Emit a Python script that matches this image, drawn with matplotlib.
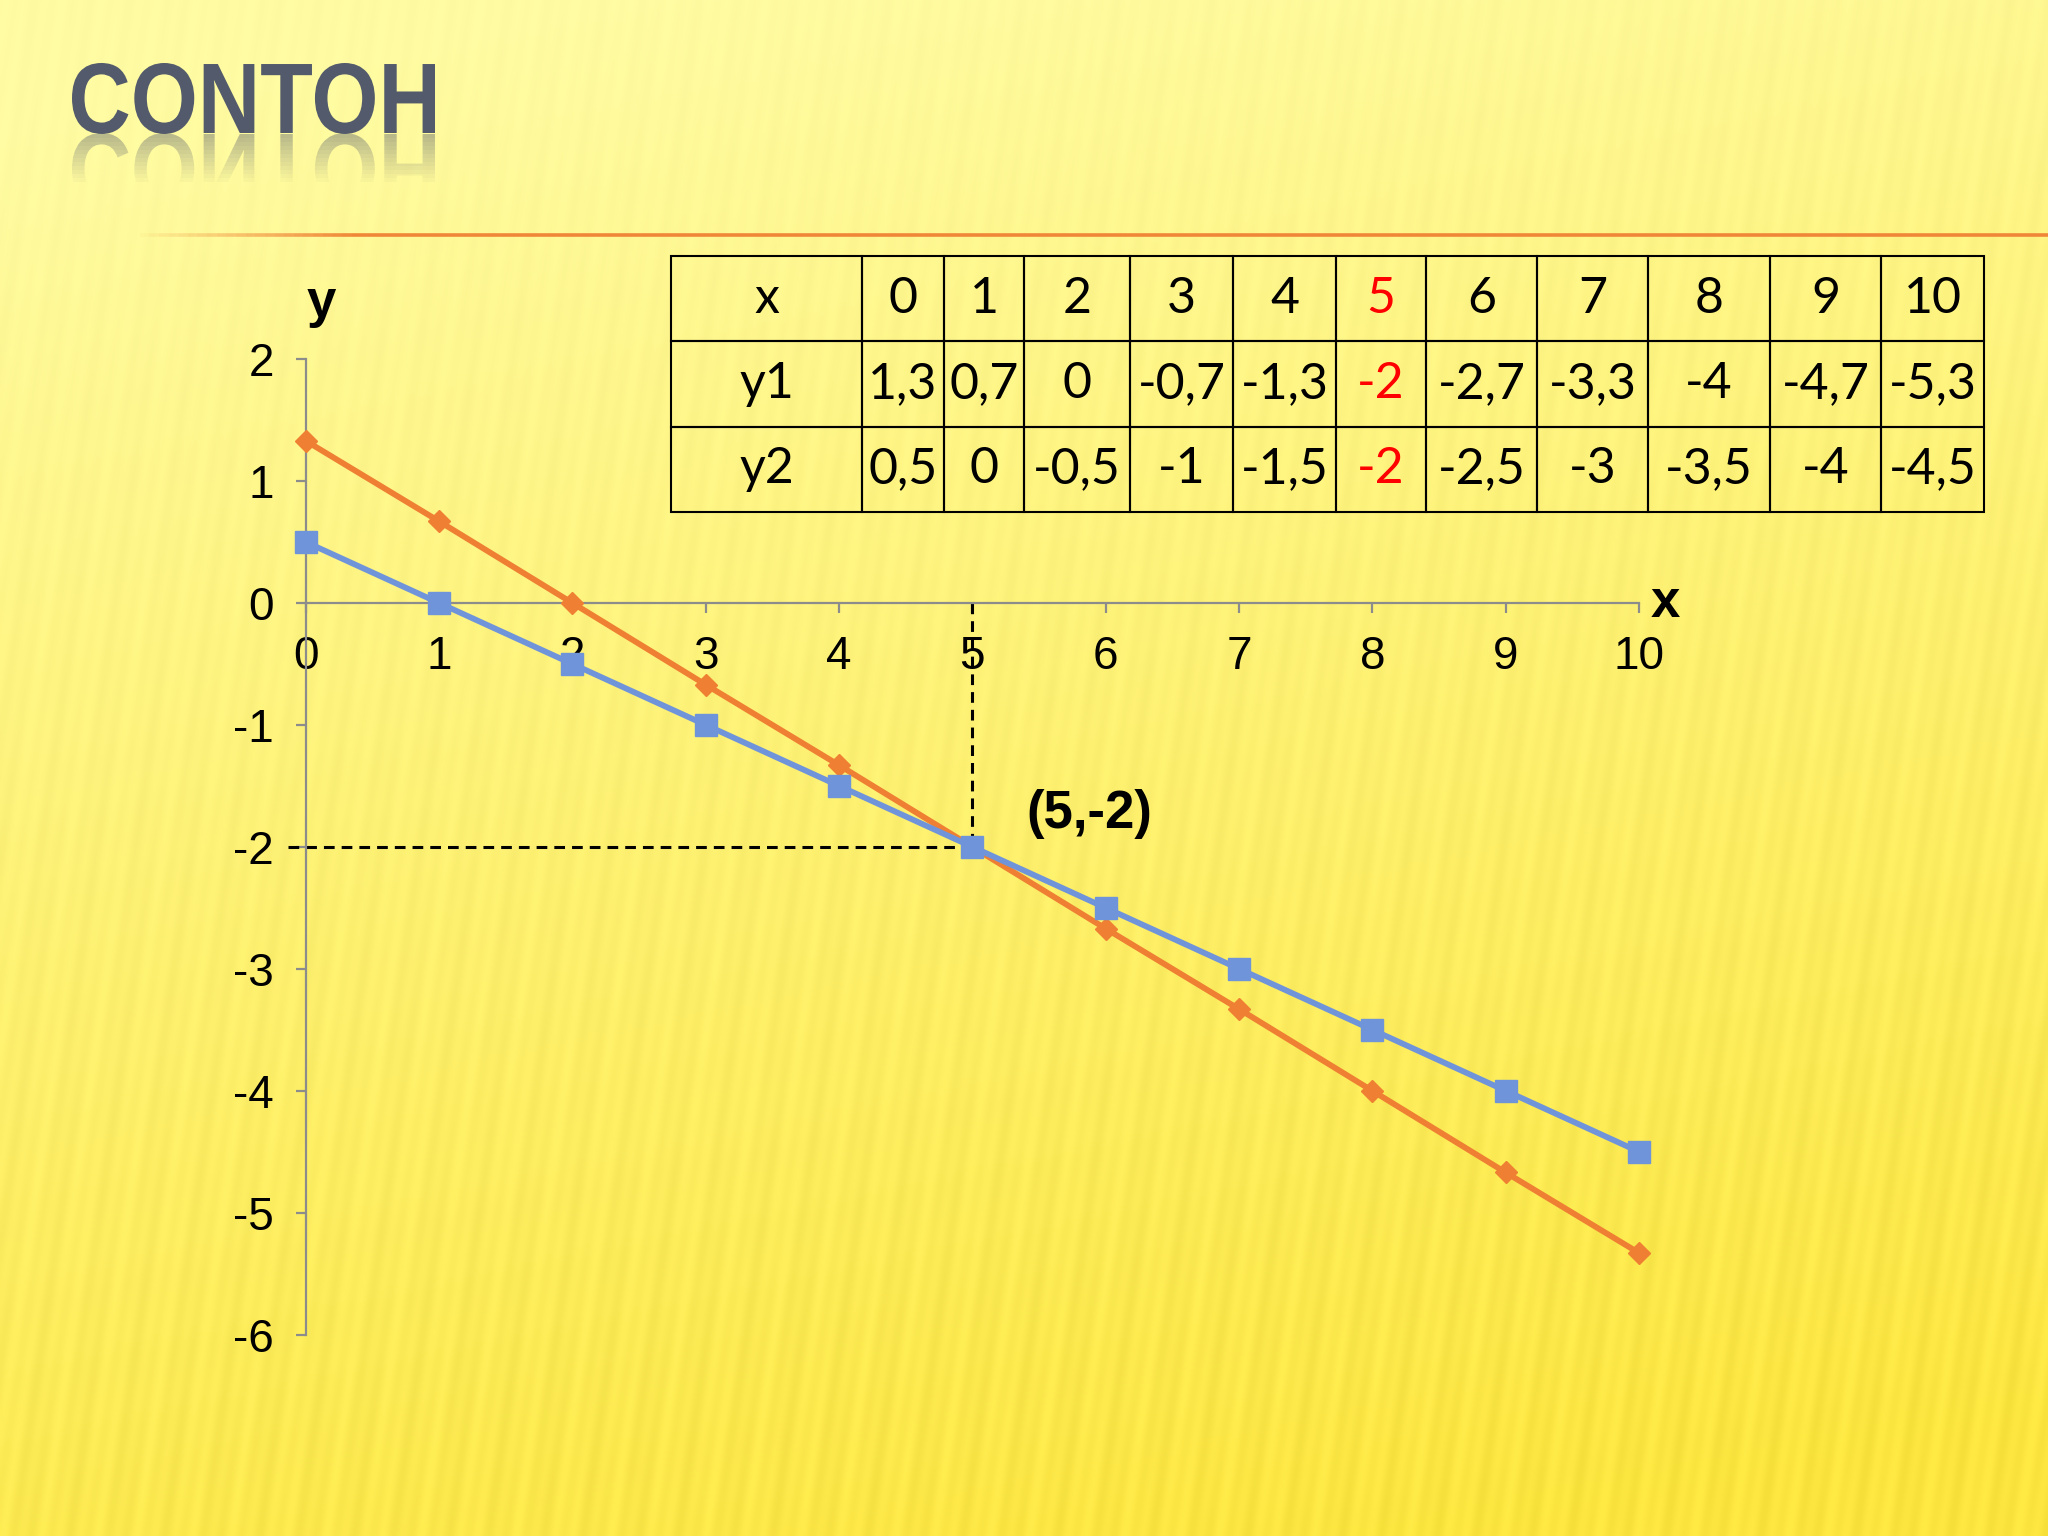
import matplotlib.pyplot as plt
import numpy as np
from matplotlib.textpath import TextPath
from matplotlib.font_manager import FontProperties
from matplotlib.patches import PathPatch, Rectangle
from matplotlib.transforms import Affine2D
from matplotlib.collections import LineCollection

plt.rcParams['font.family'] = ['Liberation Sans', 'DejaVu Sans']
plt.rcParams['axes.unicode_minus'] = False

# data
x_vals = [0, 1, 2, 3, 4, 5, 6, 7, 8, 9, 10]
y1_vals = [1.33, 0.67, 0, -0.67, -1.33, -2, -2.67, -3.33, -4, -4.67, -5.33]
y2_vals = [0.5, 0, -0.5, -1, -1.5, -2, -2.5, -3, -3.5, -4, -4.5]
row_labels = ['x', 'y1', 'y2']
y_ticks = [2, 1, 0, -1, -2, -3, -4, -5, -6]
solution = (5, -2)
solution_label = '(5,-2)'
title_text = 'CONTOH'

W, H = 2048, 1536
fig = plt.figure(figsize=(W / 100, H / 100), dpi=100)

# background slide (pixel coordinates, y downwards)
bg = fig.add_axes([0, 0, 1, 1], zorder=0)
yy, xx = np.mgrid[0:H:2, 0:W:2]
yn = yy / H
xn = xx / W
t = np.clip(0.9 * yn + 0.25 * xn - 0.08, 0, 1)
c0 = np.array([255, 251, 162]) / 255
c1 = np.array([251, 229, 62]) / 255
img = c0 + (c1 - c0) * t[..., None]
stripes = 0.014 * np.sin(2 * np.pi * (xx + 0.15 * yy) / 19) + 0.01 * np.sin(2 * np.pi * (xx + 0.1 * yy) / 47)
img = np.clip(img + (stripes * (0.3 + 0.7 * t))[..., None], 0, 1)
bg.imshow(img, extent=[0, W, H, 0], aspect='auto', interpolation='bilinear')
bg.set_xlim(0, W)
bg.set_ylim(H, 0)
bg.axis('off')

# title with a faded reflection
title_color = '#535A6C'
fp = FontProperties(family='Liberation Sans', weight='bold')
tp = TextPath((0, 0), title_text, size=100, prop=fp)
ext = tp.get_extents()
sx = 363 / ext.width
sy = 71 / ext.height
base = Affine2D().translate(-ext.x0, 0)
upright = (base + Affine2D().scale(sx, -sy).translate(72, 133)).transform_path(tp)
bg.add_patch(PathPatch(upright, facecolor=title_color, edgecolor='none', zorder=3))
mirror = (base + Affine2D().scale(sx, sy).translate(72, 134)).transform_path(tp)
n_bands = 12
for i in range(n_bands):
    y0 = 134 + i * 4
    p = PathPatch(mirror, facecolor=title_color, edgecolor='none',
                  alpha=0.4 * (1 - i / n_bands), zorder=3)
    bg.add_patch(p)
    p.set_clip_path(Rectangle((60, y0), 400, 4, transform=bg.transData))

# orange rule under the title, fading in from the left
xs = np.linspace(130, W, 200)
segs = [[(xs[i], 235), (xs[i + 1], 235)] for i in range(len(xs) - 1)]
alphas = np.clip((xs[:-1] - 130) / 220, 0, 1)
cols = [(0.94, 0.53, 0.22, a) for a in alphas]
bg.add_collection(LineCollection(segs, colors=cols, linewidths=2.6, zorder=3))


# value table
def fmt(v):
    s = f'{v:.1f}'.replace('.', ',')
    return s[:-2] if s.endswith(',0') else s


cell_text = [[row_labels[0]] + [str(v) for v in x_vals],
             [row_labels[1]] + [fmt(v) for v in y1_vals],
             [row_labels[2]] + [fmt(v) for v in y2_vals]]
col_w = [191, 82, 80, 106, 103, 103, 90, 111, 111, 122, 111, 103]
tab = bg.table(cellText=cell_text, colWidths=[w / sum(col_w) for w in col_w],
               cellLoc='center', bbox=[671 / W, 1 - 512 / H, 1313 / W, 256 / H])
tab.auto_set_font_size(False)
red_col = x_vals.index(solution[0]) + 1
for (r, c), cell in tab.get_celld().items():
    cell.set_facecolor('none')
    cell.set_edgecolor('black')
    cell.set_linewidth(1.5)
    txt = cell.get_text()
    txt.set_fontsize(36)
    txt.set_fontfamily(['Lato', 'DejaVu Sans'])
    txt.set_color('#FF0000' if c == red_col else 'black')

# the chart
ax = fig.add_axes([305.6 / W, 1 - 1334.7 / H, (1639 - 305.6) / W, (1334.7 - 359) / H], zorder=2)
ax.patch.set_alpha(0)

ax.plot([solution[0], solution[0]], [0, solution[1]], color='black', lw=2.2,
        linestyle=(0, (3.5, 2.3)), zorder=2)
ax.plot([-0.13, solution[0]], [solution[1], solution[1]], color='black', lw=2.2,
        linestyle=(0, (3.5, 2.3)), zorder=2, clip_on=False)

ax.plot(x_vals, y1_vals, color='#EE7F33', lw=4.2, marker='D', ms=11, zorder=3, clip_on=False)
ax.plot(x_vals, y2_vals, color='#7094DA', lw=4.2, marker='s', ms=16, zorder=4, clip_on=False)

for s in ['top', 'right']:
    ax.spines[s].set_visible(False)
for s in ['left', 'bottom']:
    ax.spines[s].set_position(('data', 0))
    ax.spines[s].set_color('#8C8C8C')
    ax.spines[s].set_linewidth(1.6)
ax.set_xlim(0, 10)
ax.set_ylim(-6, 2)
ax.set_xticks(x_vals)
ax.set_yticks(y_ticks)
ax.tick_params(direction='out', length=7, width=1.6, color='#8C8C8C',
               labelsize=33, pad=16, labelcolor='black')

ax.text(0.12, 2.46, 'y', fontsize=38, fontweight='bold', ha='center', va='center', clip_on=False)
ax.text(10.2, 0.0, 'x', fontsize=38, fontweight='bold', ha='center', va='center', clip_on=False)
ax.text(solution[0] + 0.88, solution[1] + 0.27, solution_label, fontsize=38,
        fontweight='bold', ha='center', va='center')

fig.savefig('out.png', dpi=100)
